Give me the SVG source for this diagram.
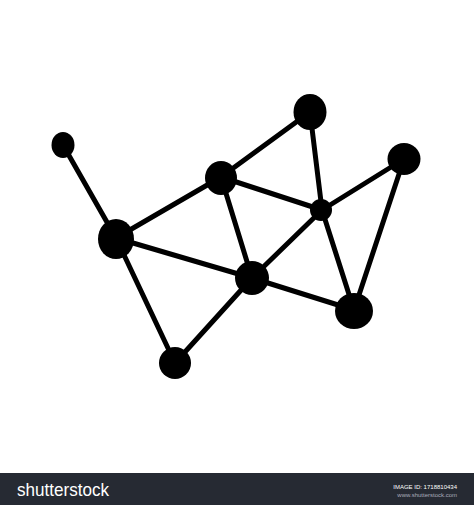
<svg xmlns="http://www.w3.org/2000/svg" width="474" height="505" viewBox="0 0 474 505">
<style>
.e{stroke:#000;stroke-width:5;stroke-linecap:round;fill:none}
.n{fill:#000}
.bar{fill:#262a33}
.logo{font-family:"Liberation Sans",Arial,sans-serif;font-size:19px;fill:#fff}
.id{font-family:"Liberation Sans",Arial,sans-serif;font-size:6px;fill:#fff;text-anchor:end}
.url{font-family:"Liberation Sans",Arial,sans-serif;font-size:6px;fill:#aab;text-anchor:end}
</style>
<rect width="474" height="505" fill="#fff"/>
<g id="connectors">
<line class="e" x1="63" y1="145" x2="116" y2="238"/>
<line class="e" x1="116" y1="238" x2="221" y2="177"/>
<line class="e" x1="221" y1="177" x2="310" y2="112"/>
<line class="e" x1="116" y1="238" x2="252" y2="278"/>
<line class="e" x1="116" y1="238" x2="175" y2="363"/>
<line class="e" x1="221" y1="177" x2="322" y2="210"/>
<line class="e" x1="221" y1="177" x2="252" y2="278"/>
<line class="e" x1="310" y1="112" x2="322" y2="210"/>
<line class="e" x1="322" y1="210" x2="404" y2="159"/>
<line class="e" x1="322" y1="210" x2="252" y2="278"/>
<line class="e" x1="322" y1="210" x2="354" y2="310"/>
<line class="e" x1="404" y1="159" x2="354" y2="310"/>
<line class="e" x1="252" y1="278" x2="354" y2="310"/>
<line class="e" x1="252" y1="278" x2="175" y2="363"/>
</g>
<g id="nodeA"><ellipse class="n" cx="63" cy="145" rx="11.5" ry="13"/></g>
<g id="nodeB"><ellipse class="n" cx="116" cy="239" rx="18" ry="20"/></g>
<g id="nodeC"><ellipse class="n" cx="221" cy="178" rx="16" ry="17"/></g>
<g id="nodeD"><ellipse class="n" cx="310" cy="112" rx="16.5" ry="18"/></g>
<g id="nodeE"><ellipse class="n" cx="404" cy="159" rx="16.5" ry="16"/></g>
<g id="nodeF"><ellipse class="n" cx="321" cy="210" rx="11" ry="11"/></g>
<g id="nodeG"><ellipse class="n" cx="252" cy="278" rx="17" ry="17"/></g>
<g id="nodeH"><ellipse class="n" cx="354" cy="311" rx="19" ry="18"/></g>
<g id="nodeI"><ellipse class="n" cx="175" cy="363" rx="16" ry="16"/></g>
<g id="footer">
<rect class="bar" x="0" y="473" width="474" height="32"/>
<text class="logo" x="17" y="496" textLength="92" lengthAdjust="spacingAndGlyphs">shutterstock</text>
<text class="id" x="457" y="489">IMAGE ID: 1718810434</text>
<text class="url" x="457" y="497">www.shutterstock.com</text>
</g>
</svg>
